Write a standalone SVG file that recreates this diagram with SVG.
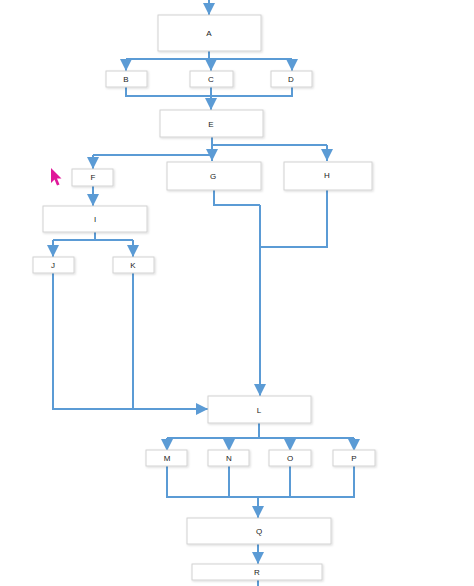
<svg xmlns="http://www.w3.org/2000/svg" width="474" height="586" viewBox="0 0 474 586">
<defs>
<style>
.box{fill:#fff;stroke:#d2d2d2;stroke-width:1}
.lbl{font-family:"Liberation Sans",Arial,sans-serif;font-size:8px;fill:#222;text-anchor:middle;dominant-baseline:central}
.ln{fill:none;stroke:#5b9bd5;stroke-width:2}
.ar{fill:none;stroke:#5b9bd5;stroke-width:2;marker-end:url(#ah)}
</style>
<marker id="ah" markerUnits="userSpaceOnUse" markerWidth="12" markerHeight="12" refX="10" refY="5" orient="auto" viewBox="0 0 10 10">
<path d="M0,0 L10,5 L0,10 z" fill="#5b9bd5"/>
</marker>
<filter id="sh" x="-10%" y="-20%" width="120%" height="150%">
<feDropShadow dx="1" dy="1" stdDeviation="0.8" flood-color="#000" flood-opacity="0.15"/>
</filter>
</defs>
<rect width="474" height="586" fill="#fff"/>
<g id="connectors">
<path class="ar" d="M209,0 V15"/>
<path class="ln" d="M209,51 V59 M126,59 H292"/>
<path class="ar" d="M126,59 V71"/>
<path class="ar" d="M211,59 V71"/>
<path class="ar" d="M292,59 V71"/>
<path class="ln" d="M126,87 V96 H292 V87 M211,87 V96"/>
<path class="ar" d="M211,96 V110"/>
<path class="ln" d="M212,137 V155"/>
<path class="ln" d="M212,145 H327"/>
<path class="ar" d="M327,145 V161"/>
<path class="ar" d="M212,155 V161"/>
<path class="ln" d="M212,155 H93"/>
<path class="ar" d="M93,155 V169"/>
<path class="ar" d="M93,186 V206"/>
<path class="ln" d="M95,232 V240 M53,240 H133"/>
<path class="ar" d="M53,240 V257"/>
<path class="ar" d="M133,240 V257"/>
<path class="ln" d="M214,190 V205 H260"/>
<path class="ln" d="M327,190 V247 H260"/>
<path class="ar" d="M260,205 V396"/>
<path class="ln" d="M53,273 V409 H133 M133,273 V409"/>
<path class="ar" d="M133,409 H208"/>
<path class="ln" d="M259,423 V438 M167,438 H354"/>
<path class="ar" d="M167,438 V451"/>
<path class="ar" d="M229,438 V451"/>
<path class="ar" d="M290,438 V451"/>
<path class="ar" d="M354,438 V451"/>
<path class="ln" d="M167,466 V497 H354 V466 M229,466 V497 M290,466 V497"/>
<path class="ar" d="M258,497 V518"/>
<path class="ar" d="M258,544 V564"/>
<path class="ln" d="M258,580 V586"/>
</g>
<g id="A"><rect class="box" filter="url(#sh)" x="158" y="15" width="103" height="36"/><text class="lbl" x="209" y="33">A</text></g>
<g id="B"><rect class="box" filter="url(#sh)" x="106" y="71" width="41" height="16"/><text class="lbl" x="126" y="79">B</text></g>
<g id="C"><rect class="box" filter="url(#sh)" x="190" y="71" width="43" height="16"/><text class="lbl" x="211" y="79">C</text></g>
<g id="D"><rect class="box" filter="url(#sh)" x="271" y="71" width="41" height="16"/><text class="lbl" x="291" y="79">D</text></g>
<g id="E"><rect class="box" filter="url(#sh)" x="160" y="110" width="103" height="27"/><text class="lbl" x="211" y="124">E</text></g>
<g id="F"><rect class="box" filter="url(#sh)" x="72" y="169" width="41" height="17"/><text class="lbl" x="93" y="177">F</text></g>
<g id="G"><rect class="box" filter="url(#sh)" x="167" y="162" width="94" height="28"/><text class="lbl" x="213" y="176">G</text></g>
<g id="H"><rect class="box" filter="url(#sh)" x="284" y="162" width="88" height="28"/><text class="lbl" x="327" y="175">H</text></g>
<g id="I"><rect class="box" filter="url(#sh)" x="43" y="206" width="104" height="26"/><text class="lbl" x="95" y="219">I</text></g>
<g id="J"><rect class="box" filter="url(#sh)" x="33" y="257" width="41" height="16"/><text class="lbl" x="53" y="265">J</text></g>
<g id="K"><rect class="box" filter="url(#sh)" x="113" y="257" width="41" height="16"/><text class="lbl" x="133" y="265">K</text></g>
<g id="L"><rect class="box" filter="url(#sh)" x="208" y="396" width="103" height="27"/><text class="lbl" x="259" y="410">L</text></g>
<g id="M"><rect class="box" filter="url(#sh)" x="146" y="450" width="41" height="16"/><text class="lbl" x="167" y="458">M</text></g>
<g id="N"><rect class="box" filter="url(#sh)" x="208" y="450" width="41" height="16"/><text class="lbl" x="229" y="458">N</text></g>
<g id="O"><rect class="box" filter="url(#sh)" x="269" y="450" width="42" height="16"/><text class="lbl" x="290" y="458">O</text></g>
<g id="P"><rect class="box" filter="url(#sh)" x="333" y="450" width="42" height="16"/><text class="lbl" x="354" y="458">P</text></g>
<g id="Q"><rect class="box" filter="url(#sh)" x="187" y="518" width="144" height="26"/><text class="lbl" x="259" y="531">Q</text></g>
<g id="R"><rect class="box" filter="url(#sh)" x="192" y="564" width="130" height="16"/><text class="lbl" x="257" y="572">R</text></g>
<polygon points="51,168 51,183 54.5,179.5 57,185.5 59.5,184.5 57,178.5 61.5,178.5" fill="#e0189a"/>
</svg>
